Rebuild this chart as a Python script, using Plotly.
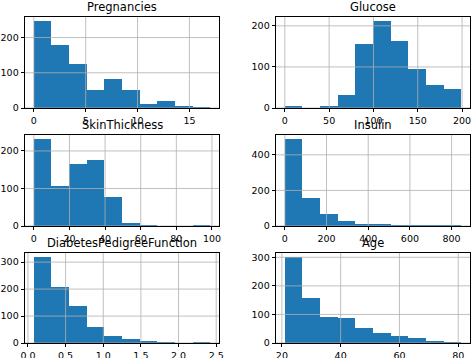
import plotly.graph_objects as go

# ---- data (10-bin histograms, counts) ----
titles = ["Pregnancies", "Glucose", "SkinThickness", "Insulin", "DiabetesPedigreeFunction", "Age"]
bin_min = [0, 0, 0, 0, 0.078, 21]
bin_max = [17, 199, 99, 846, 2.42, 81]
preg_counts = [246, 178, 125, 50, 83, 52, 11, 19, 3, 1]
glucose_counts = [5, 0, 4, 32, 156, 211, 163, 95, 56, 46]
skin_counts = [231, 107, 165, 175, 78, 9, 2, 0, 0, 1]
insulin_counts = [487, 155, 70, 30, 8, 9, 5, 1, 2, 1]
dpf_counts = [318, 206, 137, 58, 25, 15, 5, 3, 0, 1]
age_counts = [300, 157, 92, 86, 52, 34, 26, 16, 4, 1]
counts = [preg_counts, glucose_counts, skin_counts, insulin_counts, dpf_counts, age_counts]
x_ticks = [[0, 5, 10, 15], [0, 50, 100, 150, 200], [0, 20, 40, 60, 80, 100],
           [0, 200, 400, 600, 800], [0.0, 0.5, 1.0, 1.5, 2.0, 2.5], [20, 40, 60, 80]]
x_tick_text = [None, None, None, None, ["0.0", "0.5", "1.0", "1.5", "2.0", "2.5"], None]
y_ticks = [[0, 100, 200], [0, 100, 200], [0, 100, 200], [0, 200, 400],
           [0, 100, 200, 300], [0, 100, 200, 300]]

W, H = 474, 358
x_doms = [[25 / W, 219 / W], [276 / W, 470 / W]]
y_doms = [[1 - 108 / H, 1 - 17 / H], [1 - 226 / H, 1 - 135 / H], [1 - 343 / H, 1 - 253 / H]]

fig = go.Figure()
shapes = []
annotations = []
font = "DejaVu Sans"
for i in range(6):
    n = i + 1
    sfx = "" if n == 1 else str(n)
    row, col = divmod(i, 2)
    lo, hi = bin_min[i], bin_max[i]
    nb = len(counts[i])
    w = (hi - lo) / nb
    centers = [lo + w * (k + 0.5) for k in range(nb)]
    fig.add_trace(go.Bar(x=centers, y=counts[i], width=[w] * nb,
                         marker=dict(color="#1f77b4", line=dict(width=0)),
                         xaxis="x" + sfx, yaxis="y" + sfx, showlegend=False))
    span = hi - lo
    xr = [lo - 0.05 * span, hi + 0.05 * span]
    yr = [0, max(counts[i]) * 1.05]
    axcommon = dict(showline=True, mirror=True, linecolor="black", linewidth=0.8,
                    ticks="outside", ticklen=3.5, tickwidth=0.8, tickcolor="black",
                    showgrid=False, zeroline=False, automargin=False,
                    tickfont=dict(family=font, size=9.5, color="black"))
    xa = dict(axcommon, domain=x_doms[col], range=xr, tickvals=x_ticks[i],
              anchor="y" + sfx)
    if x_tick_text[i]:
        xa["ticktext"] = x_tick_text[i]
    ya = dict(axcommon, domain=y_doms[row], range=yr, tickvals=y_ticks[i],
              anchor="x" + sfx)
    fig.update_layout({"xaxis" + sfx: xa, "yaxis" + sfx: ya})
    # grid lines above bars (matplotlib draws grid over patches)
    for t in x_ticks[i]:
        if xr[0] <= t <= xr[1]:
            shapes.append(dict(type="line", xref="x" + sfx, yref="y" + sfx + " domain",
                               x0=t, x1=t, y0=0, y1=1, layer="above",
                               line=dict(color="#b0b0b0", width=0.8)))
    for t in y_ticks[i]:
        if yr[0] <= t <= yr[1]:
            shapes.append(dict(type="line", xref="x" + sfx + " domain", yref="y" + sfx,
                               x0=0, x1=1, y0=t, y1=t, layer="above",
                               line=dict(color="#b0b0b0", width=0.8)))
    annotations.append(dict(text=titles[i], xref="x" + sfx + " domain", yref="y" + sfx + " domain",
                            x=0.5, y=1, xanchor="center", yanchor="bottom", yshift=1,
                            showarrow=False, font=dict(family=font, size=11.5, color="black")))

fig.update_layout(width=W, height=H, margin=dict(l=0, r=0, t=0, b=0, autoexpand=False),
                  plot_bgcolor="white", paper_bgcolor="white", bargap=0,
                  shapes=shapes, annotations=annotations)
fig.write_html("out.html", config={"displayModeBar": False},
               post_script="document.body.style.margin='0';document.body.style.overflow='hidden';")
